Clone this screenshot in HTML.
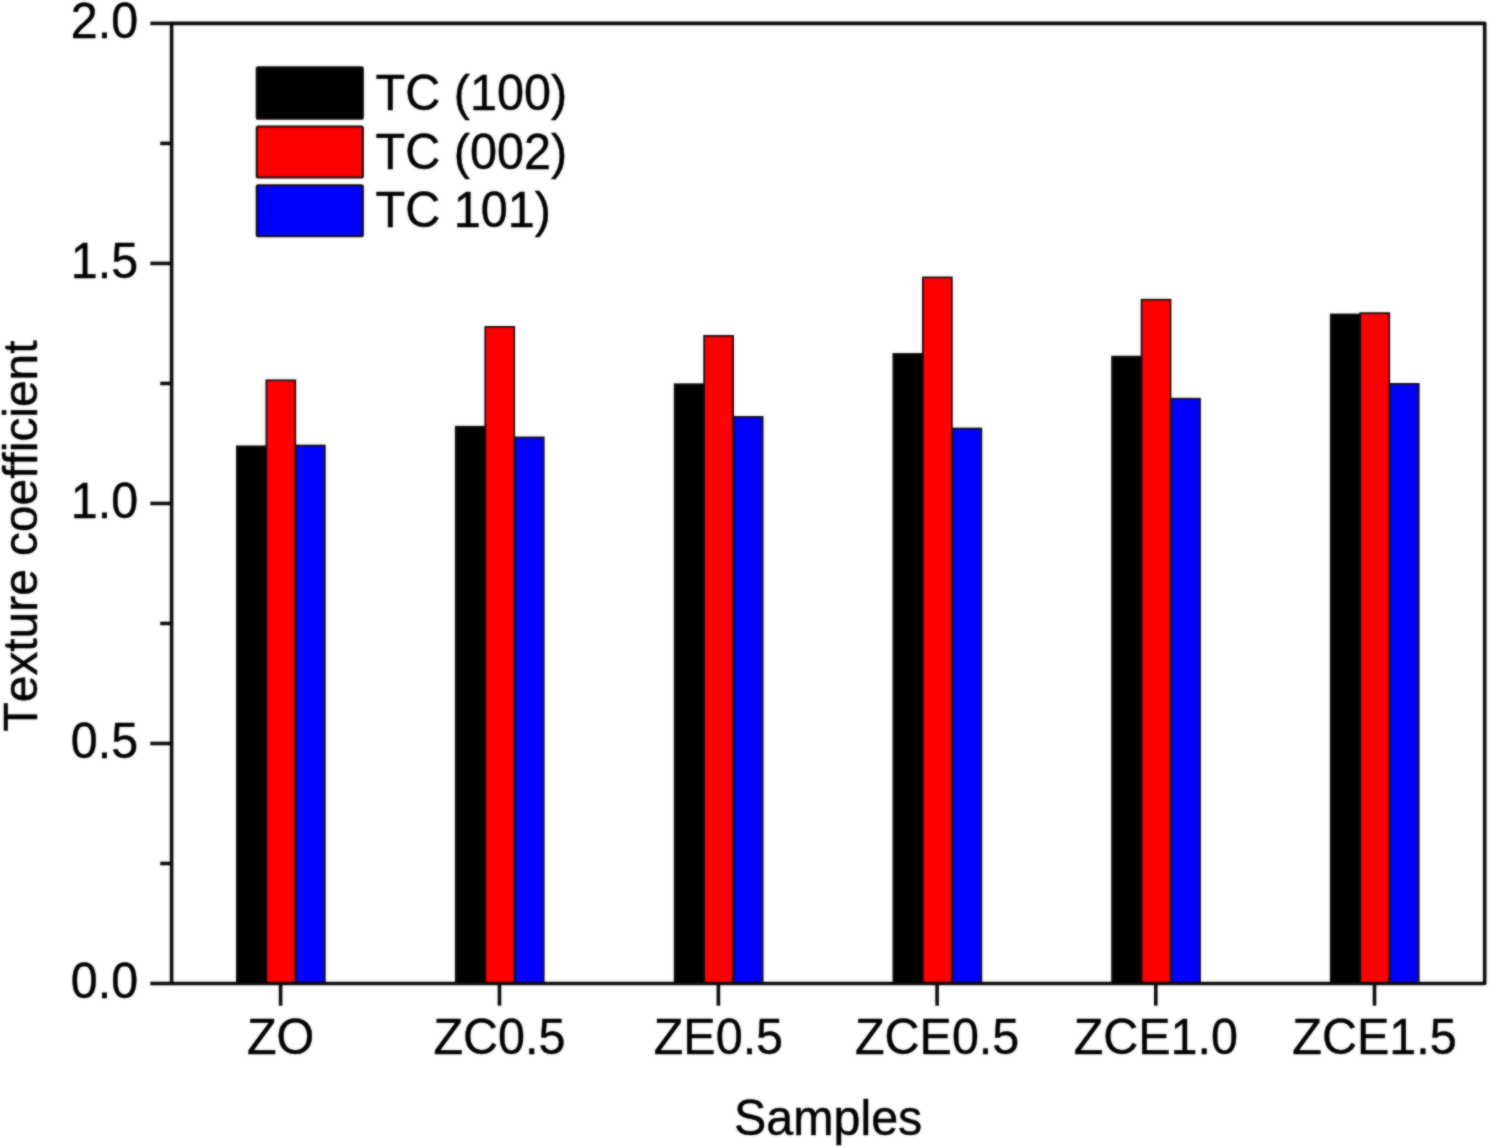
<!DOCTYPE html>
<html lang="en"><head><meta charset="utf-8"><title>Texture coefficient</title>
<style>html,body{margin:0;padding:0;background:#fff;}body{width:1491px;height:1147px;overflow:hidden;}svg{display:block;}text{font-family:"Liberation Sans",Arial,sans-serif;font-size:48px;fill:#000;stroke:#000;stroke-width:0.45px;stroke-linejoin:round;}</style></head><body>
<svg width="1491" height="1147" viewBox="0 0 1491 1147">
<defs><filter id="soft" color-interpolation-filters="sRGB" x="0" y="0" width="1491" height="1147" filterUnits="userSpaceOnUse"><feGaussianBlur stdDeviation="0.85" result="b"/><feComposite in="SourceGraphic" in2="b" operator="arithmetic" k1="0" k2="0.40" k3="0.60" k4="0"/></filter></defs>
<rect x="0" y="0" width="1491" height="1147" fill="#ffffff"/>
<g filter="url(#soft)">
<rect x="0" y="0" width="1491" height="1147" fill="#ffffff"/>
<g stroke="#120808" stroke-width="1.7">
<rect x="236.85" y="446.30" width="29.00" height="537.20" fill="#000000"/>
<rect x="266.35" y="380.30" width="29.00" height="603.20" fill="#ff0000"/>
<rect x="295.85" y="445.50" width="29.00" height="538.00" fill="#0000ff"/>
<rect x="455.75" y="426.70" width="29.00" height="556.80" fill="#000000"/>
<rect x="485.25" y="326.90" width="29.00" height="656.60" fill="#ff0000"/>
<rect x="514.75" y="437.40" width="29.00" height="546.10" fill="#0000ff"/>
<rect x="674.65" y="384.20" width="29.00" height="599.30" fill="#000000"/>
<rect x="704.15" y="335.90" width="29.00" height="647.60" fill="#ff0000"/>
<rect x="733.65" y="416.90" width="29.00" height="566.60" fill="#0000ff"/>
<rect x="893.35" y="353.90" width="29.00" height="629.60" fill="#000000"/>
<rect x="922.85" y="277.40" width="29.00" height="706.10" fill="#ff0000"/>
<rect x="952.35" y="428.50" width="29.00" height="555.00" fill="#0000ff"/>
<rect x="1112.05" y="356.60" width="29.00" height="626.90" fill="#000000"/>
<rect x="1141.55" y="299.70" width="29.00" height="683.80" fill="#ff0000"/>
<rect x="1171.05" y="398.70" width="29.00" height="584.80" fill="#0000ff"/>
<rect x="1330.75" y="314.40" width="29.00" height="669.10" fill="#000000"/>
<rect x="1360.25" y="313.10" width="29.00" height="670.40" fill="#ff0000"/>
<rect x="1389.75" y="383.90" width="29.00" height="599.60" fill="#0000ff"/>
</g>
<g stroke="#0a0a0a" stroke-width="3.6" fill="none" stroke-linecap="butt" stroke-linejoin="round">
<rect x="171.6" y="23.4" width="1313.1" height="960.1"/>
<line x1="150.3" y1="23.40" x2="171.6" y2="23.40"/>
<line x1="150.3" y1="263.43" x2="171.6" y2="263.43"/>
<line x1="150.3" y1="503.45" x2="171.6" y2="503.45"/>
<line x1="150.3" y1="743.48" x2="171.6" y2="743.48"/>
<line x1="150.3" y1="983.50" x2="171.6" y2="983.50"/>
<line x1="160.2" y1="143.41" x2="171.6" y2="143.41"/>
<line x1="160.2" y1="383.44" x2="171.6" y2="383.44"/>
<line x1="160.2" y1="623.46" x2="171.6" y2="623.46"/>
<line x1="160.2" y1="863.49" x2="171.6" y2="863.49"/>
<line x1="280.6" y1="983.5" x2="280.6" y2="1005.7"/>
<line x1="499.5" y1="983.5" x2="499.5" y2="1005.7"/>
<line x1="718.4" y1="983.5" x2="718.4" y2="1005.7"/>
<line x1="937.1" y1="983.5" x2="937.1" y2="1005.7"/>
<line x1="1155.8" y1="983.5" x2="1155.8" y2="1005.7"/>
<line x1="1374.5" y1="983.5" x2="1374.5" y2="1005.7"/>
</g>
<text transform="translate(138.10,37.60) scale(1.008,1.035)" text-anchor="end">2.0</text>
<text transform="translate(138.10,277.62) scale(1.008,1.035)" text-anchor="end">1.5</text>
<text transform="translate(138.10,517.65) scale(1.008,1.035)" text-anchor="end">1.0</text>
<text transform="translate(138.10,757.68) scale(1.008,1.035)" text-anchor="end">0.5</text>
<text transform="translate(138.10,997.70) scale(1.008,1.035)" text-anchor="end">0.0</text>
<text transform="translate(280.60,1054.20) scale(1.010,1.048)" text-anchor="middle">ZO</text>
<text transform="translate(499.50,1054.20) scale(1.010,1.048)" text-anchor="middle">ZC0.5</text>
<text transform="translate(718.40,1054.20) scale(1.010,1.048)" text-anchor="middle">ZE0.5</text>
<text transform="translate(937.10,1054.20) scale(1.010,1.048)" text-anchor="middle">ZCE0.5</text>
<text transform="translate(1155.80,1054.20) scale(1.010,1.048)" text-anchor="middle">ZCE1.0</text>
<text transform="translate(1374.50,1054.20) scale(1.010,1.048)" text-anchor="middle">ZCE1.5</text>
<text transform="translate(828.20,1134.90) scale(1.008,1.048)" text-anchor="middle">Samples</text>
<text transform="translate(36.90,536.00) rotate(-90) scale(0.997,0.990)" text-anchor="middle" style="font-kerning:none">Texture coefficient</text>
<rect x="256.7" y="67.2" width="106.2" height="51.6" rx="1.6" fill="#000000" stroke="#120808" stroke-width="2"/>
<text transform="translate(375.60,110.10) scale(1.012,1.060)" text-anchor="start">TC (100)</text>
<rect x="256.7" y="126.4" width="106.2" height="51.2" rx="1.6" fill="#ff0000" stroke="#120808" stroke-width="2"/>
<text transform="translate(375.60,168.80) scale(1.012,1.060)" text-anchor="start">TC (002)</text>
<rect x="256.7" y="185.3" width="106.2" height="51.0" rx="1.6" fill="#0000ff" stroke="#120808" stroke-width="2"/>
<text transform="translate(375.60,227.30) scale(1.012,1.060)" text-anchor="start">TC 101)</text>
</g>
</svg></body></html>
